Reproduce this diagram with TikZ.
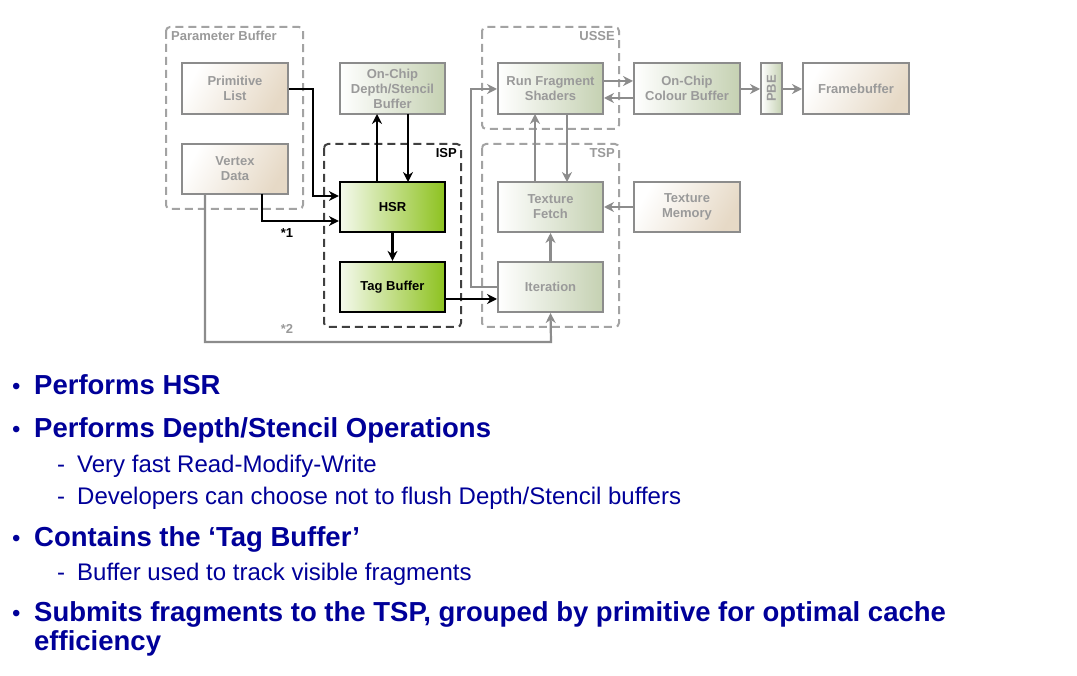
\documentclass[tikz,border=0pt]{standalone}
\usepackage{fontspec}
\setmainfont{Liberation Sans}
\usetikzlibrary{arrows.meta}
\definecolor{ln}{HTML}{8C8C8C}
\definecolor{tx}{HTML}{9A9A9A}
\definecolor{navy}{HTML}{000099}
\definecolor{tan}{HTML}{E6D9C6}
\definecolor{sage}{HTML}{C5D1B2}
\definecolor{lime}{HTML}{8DC21F}
\begin{document}
\begin{tikzpicture}[x=1pt,y=-1pt,
  box/.style={draw=ln,line width=2pt,font=\bfseries\fontsize{13}{15}\selectfont,text=tx,align=center,inner sep=0pt},
  beige/.style={box,left color=white,right color=tan,shading angle=60},
  sagebox/.style={box,left color=white,right color=sage},
  green/.style={draw=black,line width=2.2pt,font=\bfseries\fontsize{13}{15}\selectfont,text=black,align=center,inner sep=0pt,left color=white!85!blue!20!lime!10,right color=lime},
  grp/.style={draw=ln!80,dashed,dash pattern=on 8pt off 5pt,line width=2pt,rounded corners=4pt},
  glab/.style={font=\bfseries\fontsize{13}{15}\selectfont,text=tx,inner sep=1pt},
  ga/.style={draw=ln,line width=2.2pt,-{Stealth[length=10pt,width=10pt]}},
  ka/.style={draw=black,line width=2.2pt,-{Stealth[length=10pt,width=10pt]}},
  bul/.style={font=\bfseries\fontsize{27.5}{30}\selectfont,text=navy,anchor=base west,inner sep=0pt},
  sub/.style={font=\fontsize{24}{27}\selectfont,text=navy,anchor=base west,inner sep=0pt},
  dot/.style={font=\fontsize{24}{26}\selectfont,text=navy,anchor=base west,inner sep=0pt}]
\useasboundingbox[fill=white] (0,0) rectangle (1077,676);
% groups
\draw[grp] (166,27) rectangle (303,209);
\node[glab,anchor=north west] (pbl) at (170,30) {Parameter Buffer};
\draw[grp,draw=black!75] (324,144) rectangle (461,327);
\node[glab,text=black,anchor=north east] (ispl) at (458,147) {ISP};
\draw[grp] (482,27) rectangle (619,129);
\node[glab,anchor=north east] (ussel) at (616,30) {USSE};
\draw[grp] (482,144) rectangle (619,327);
\node[glab,anchor=north east] (tspl) at (616,147) {TSP};
% boxes
\node[beige,minimum width=106pt,minimum height=51pt] (pl) at (235,88.5) {Primitive\\List};
\node[beige,minimum width=106pt,minimum height=50pt] (vd) at (235,169) {Vertex\\Data};
\node[sagebox,minimum width=105pt,minimum height=51pt] (ds) at (392.5,88.5) {On-Chip\\Depth/Stencil\\Buffer};
\node[green,minimum width=105pt,minimum height=50pt] (hsr) at (392.5,207) {HSR};
\node[green,minimum width=105pt,minimum height=50pt] (tag) at (392.5,287) {Tag Buffer};
\node[sagebox,minimum width=105pt,minimum height=51pt] (rfs) at (550.5,88.5) {Run Fragment\\Shaders};
\node[sagebox,minimum width=105pt,minimum height=50pt] (tf) at (550.5,207) {Texture\\Fetch};
\node[sagebox,minimum width=105pt,minimum height=50pt] (it) at (550.5,287) {Iteration};
\node[sagebox,minimum width=106pt,minimum height=51pt] (cb) at (687,88.5) {On-Chip\\Colour Buffer};
\node[sagebox,minimum width=21pt,minimum height=51pt] (pbe) at (771.5,88.5) {\rotatebox{90}{PBE}};
\node[beige,minimum width=106pt,minimum height=51pt] (fb) at (856,88.5) {Framebuffer};
\node[beige,minimum width=106pt,minimum height=50pt] (tm) at (687,207) {Texture\\Memory};
% black arrows
\draw[ka] (pl.east|-0,89) -- (313,89) -- (313,196) -- (hsr.west|-0,196);
\draw[ka] (262,194) -- (262,221) -- (hsr.west|-0,221);
\node[font=\bfseries\fontsize{13}{15}\selectfont] (s1) at (287,233) {*1};
\draw[ka] (377,182) -- (377,114);
\draw[ka] (408,114) -- (408,182);
\draw[ka] (hsr) -- (tag);
\draw[ka] (tag.east|-0,299) -- (it.west|-0,299);
% gray arrows
\draw[ga] (205,194) -- (205,342) -- (551,342) -- (it.south);
\node[glab] (s2) at (287,329) {*2};
\draw[ga] (it.west|-0,287) -- (471,287) -- (471,89) -- (rfs.west|-0,89);
\draw[ga] (rfs.east|-0,81) -- (cb.west|-0,81);
\draw[ga] (cb.west|-0,98) -- (rfs.east|-0,98);
\draw[ga] (567,114) -- (567,182);
\draw[ga] (535,182) -- (535,114);
\draw[ga] (it) -- (tf);
\draw[ga] (tm) -- (tf);
\draw[ga] (cb.east|-0,89) -- (pbe.west|-0,89);
\draw[ga] (pbe.east|-0,89) -- (fb.west|-0,89);
% bullets
\node[dot] (d1) at (12,395) {•}; \node[bul] (b1) at (34,395) {Performs HSR};
\node[dot] (d2) at (12,437) {•}; \node[bul] (b2) at (34,437) {Performs Depth/Stencil Operations};
\node[sub] (m1) at (57,472) {-}; \node[sub] (t1) at (77,472) {Very fast Read-Modify-Write};
\node[sub] (m2) at (57,504) {-}; \node[sub] (t2) at (77,504) {Developers can choose not to flush Depth/Stencil buffers};
\node[dot] (d3) at (12,546) {•}; \node[bul] (b3) at (34,546) {Contains the ‘Tag Buffer’};
\node[sub] (m3) at (57,580) {-}; \node[sub] (t3) at (77,580) {Buffer used to track visible fragments};
\node[dot] (d4) at (12,621) {•}; \node[bul] (b4) at (34,621) {Submits fragments to the TSP, grouped by primitive for optimal cache};
\node[bul] (b5) at (34,650) {efficiency};
\end{tikzpicture}
\end{document}
